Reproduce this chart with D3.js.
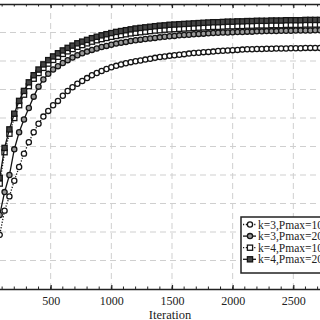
<!DOCTYPE html>
<html>
<head>
<meta charset="utf-8">
<script src="https://cdn.jsdelivr.net/npm/d3@7"></script>
<style>
  body { margin: 0; background: #fff; }
  svg { display: block; }
  text { font-family: "Liberation Serif", "Times New Roman", serif; fill: #222; }
</style>
</head>
<body>
<svg id="chart" width="320" height="320"></svg>
<script>
// one marker every 40 iterations, 0..3000
var step = 40;
var xTicks = [500, 1000, 1500, 2000, 2500];
var yTicks = [0, 1, 2, 3, 4, 5, 6, 7, 8, 9, 10];

var seriesNames = ["k=3,Pmax=10", "k=3,Pmax=20", "k=4,Pmax=10", "k=4,Pmax=20"];

// k=3 dotted circles
var k3a = [
  0.3, 1.1, 1.9, 2.75, 3.25, 3.8, 4.28, 4.75, 5.15, 5.5,
  5.8, 6.05, 6.25, 6.45, 6.6, 6.78, 6.95, 7.08, 7.2, 7.3,
  7.4, 7.5, 7.58, 7.65, 7.72, 7.78, 7.83, 7.88, 7.92, 7.96,
  7.99, 8.02, 8.05, 8.08, 8.11, 8.14, 8.16, 8.18, 8.2, 8.22,
  8.24, 8.26, 8.28, 8.29, 8.31, 8.32, 8.33, 8.35, 8.36, 8.37,
  8.38, 8.39, 8.4, 8.41, 8.41, 8.42, 8.42, 8.43, 8.43, 8.44,
  8.44, 8.44, 8.45, 8.45, 8.45, 8.46, 8.46, 8.46, 8.46, 8.47,
  8.47, 8.47, 8.47, 8.47, 8.48, 8.48
];
// k=3 solid circles
var k3b = [
  0.5, 1.5, 2.6, 3.4, 4.0, 4.9, 5.5, 5.95, 6.35, 6.75,
  7.1, 7.35, 7.55, 7.7, 7.82, 7.93, 8.03, 8.12, 8.2, 8.27,
  8.33, 8.39, 8.44, 8.49, 8.53, 8.57, 8.61, 8.64, 8.67, 8.7,
  8.73, 8.75, 8.77, 8.79, 8.81, 8.83, 8.85, 8.87, 8.88, 8.9,
  8.91, 8.92, 8.94, 8.95, 8.96, 8.97, 8.98, 8.99, 9.0, 9.0,
  9.01, 9.02, 9.02, 9.03, 9.03, 9.04, 9.04, 9.05, 9.05, 9.05,
  9.06, 9.06, 9.06, 9.07, 9.07, 9.07, 9.07, 9.08, 9.08, 9.08,
  9.08, 9.08, 9.09, 9.09, 9.09, 9.09
];
// k=4 dotted squares
var k4a = [
  0.8, 2.2, 3.7, 4.8, 5.45, 6.0, 6.45, 6.82, 7.12, 7.38,
  7.58, 7.76, 7.91, 8.04, 8.15, 8.25, 8.34, 8.42, 8.5, 8.56,
  8.62, 8.68, 8.73, 8.77, 8.81, 8.85, 8.88, 8.91, 8.94, 8.97,
  8.99, 9.01, 9.03, 9.05, 9.07, 9.08, 9.1, 9.11, 9.12, 9.13,
  9.14, 9.15, 9.16, 9.17, 9.18, 9.19, 9.2, 9.2, 9.21, 9.22,
  9.22, 9.23, 9.23, 9.24, 9.24, 9.25, 9.25, 9.25, 9.26, 9.26,
  9.26, 9.27, 9.27, 9.27, 9.27, 9.28, 9.28, 9.28, 9.28, 9.29,
  9.29, 9.29, 9.29, 9.29, 9.3, 9.3
];
// k=4 solid squares
var k4b = [
  1.0, 2.4, 3.9, 4.95, 5.6, 6.15, 6.6, 6.95, 7.25, 7.5,
  7.7, 7.88, 8.03, 8.16, 8.27, 8.37, 8.46, 8.54, 8.62, 8.68,
  8.74, 8.8, 8.85, 8.9, 8.94, 8.98, 9.02, 9.05, 9.08, 9.11,
  9.14, 9.16, 9.18, 9.2, 9.22, 9.24, 9.25, 9.27, 9.28, 9.29,
  9.3, 9.31, 9.32, 9.33, 9.34, 9.35, 9.36, 9.36, 9.37, 9.38,
  9.38, 9.39, 9.39, 9.4, 9.4, 9.41, 9.41, 9.41, 9.42, 9.42,
  9.42, 9.43, 9.43, 9.43, 9.43, 9.44, 9.44, 9.44, 9.44, 9.45,
  9.45, 9.45, 9.45, 9.45, 9.45, 9.46
];

var svg = d3.select('#chart');

// plot area: left edge sits just outside the window, like the crop
var xScale = d3.scaleLinear().domain([0, 3000]).range([-10, 354]);
var yScale = d3.scaleLinear().domain([0, 10]).range([289, 4]);

// dashed grid
svg.append('g').selectAll('line')
  .data(xTicks)
  .join('line')
  .attr('x1', d => xScale(d)).attr('x2', d => xScale(d))
  .attr('y1', yScale(0)).attr('y2', yScale(10))
  .attr('stroke', '#cfcfcf').attr('stroke-width', 1)
  .attr('stroke-dasharray', '6,4');

svg.append('g').selectAll('line')
  .data(yTicks.slice(1, -1))
  .join('line')
  .attr('x1', xScale(0)).attr('x2', xScale(3000))
  .attr('y1', d => yScale(d)).attr('y2', d => yScale(d))
  .attr('stroke', '#cfcfcf').attr('stroke-width', 1)
  .attr('stroke-dasharray', '6,4');

// bottom axis with inward ticks
var minor = d3.range(0, 3001, 100);
var xAxis = d3.axisBottom(xScale).tickValues(xTicks).tickSize(-4).tickPadding(7).tickFormat(d3.format('d'));
var gx = svg.append('g').attr('transform', 'translate(0,' + yScale(0) + ')').call(xAxis);
gx.attr('font-family', null);
gx.select('.domain').attr('stroke', '#222').attr('stroke-width', 1.4);
gx.selectAll('.tick line').attr('stroke', '#222').attr('stroke-width', 1.2);
gx.selectAll('.tick text').style('font-size', '12px').attr('fill', '#222');
gx.selectAll('.minor').data(minor).join('line').attr('class', 'minor')
  .attr('x1', d => xScale(d)).attr('x2', d => xScale(d))
  .attr('y1', 0).attr('y2', -2.5)
  .attr('stroke', '#222').attr('stroke-width', 1);

// top frame line with ticks
var xTop = d3.axisTop(xScale).tickValues(xTicks).tickSize(-4).tickFormat('');
var gt = svg.append('g').attr('transform', 'translate(0,' + yScale(10) + ')').call(xTop);
gt.select('.domain').attr('stroke', '#222').attr('stroke-width', 1.4);
gt.selectAll('.tick line').attr('stroke', '#222').attr('stroke-width', 1.2);
gt.selectAll('.minor').data(minor).join('line').attr('class', 'minor')
  .attr('x1', d => xScale(d)).attr('x2', d => xScale(d))
  .attr('y1', 0).attr('y2', 2.5)
  .attr('stroke', '#222').attr('stroke-width', 1);

svg.append('text')
  .attr('x', xScale(1500) - 2).attr('y', 318.5)
  .attr('text-anchor', 'middle')
  .style('font-size', '12.5px')
  .text('Iteration');

// series styles
var styles = [
  { data: k3a, dash: '1.2,1.6', shape: 'circle', fill: '#fff' },
  { data: k3b, dash: null, shape: 'circle', fill: '#9a9a9a' },
  { data: k4a, dash: '1.2,1.6', shape: 'square', fill: '#fff' },
  { data: k4b, dash: null, shape: 'square', fill: '#444' }
];

var line = d3.line()
  .x((d, i) => xScale(i * step))
  .y(d => yScale(d));

function drawMarker(g, s, x, y) {
  if (s.shape === 'circle') {
    g.append('circle').attr('cx', x).attr('cy', y).attr('r', 2.6)
      .attr('fill', s.fill).attr('stroke', '#151515').attr('stroke-width', 1.3);
  } else {
    g.append('rect').attr('x', x - 2.6).attr('y', y - 2.6).attr('width', 5.2).attr('height', 5.2)
      .attr('fill', s.fill).attr('stroke', '#151515').attr('stroke-width', 1.3);
  }
}

styles.forEach(function(s) {
  var g = svg.append('g');
  g.append('path')
    .attr('d', line(s.data))
    .attr('fill', 'none')
    .attr('stroke', '#151515')
    .attr('stroke-width', 1.3)
    .attr('stroke-dasharray', s.dash);
  s.data.forEach(function(v, i) {
    drawMarker(g, s, xScale(i * step), yScale(v));
  });
});

// legend box, cut off by the right edge like the original
var lg = svg.append('g');
lg.append('rect')
  .attr('x', 241).attr('y', 217).attr('width', 130).attr('height', 56)
  .attr('fill', '#fff').attr('stroke', '#222').attr('stroke-width', 1.5);

styles.forEach(function(s, i) {
  var y = 224.5 + i * 11.6;
  lg.append('line')
    .attr('x1', 243).attr('x2', 256).attr('y1', y).attr('y2', y)
    .attr('stroke', '#151515').attr('stroke-width', 1.3)
    .attr('stroke-dasharray', s.dash);
  drawMarker(lg, s, 250, y);
  lg.append('text')
    .attr('x', 258).attr('y', y + 4)
    .style('font-size', '11.5px')
    .text(seriesNames[i]);
});
</script>
</body>
</html>
